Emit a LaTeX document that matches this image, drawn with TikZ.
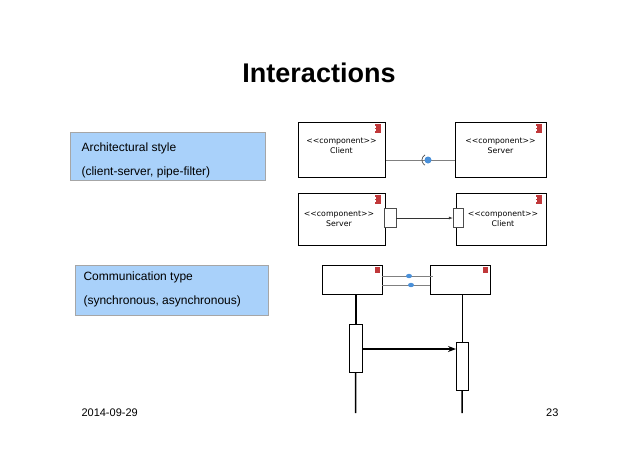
\documentclass[tikz,border=0pt]{standalone}
\usepackage{fontspec}
\setmainfont{Liberation Sans}
\newfontfamily\dv{DejaVu Sans}
\usetikzlibrary{arrows.meta}
\definecolor{lblue}{HTML}{A9D1FA}
\definecolor{icred}{HTML}{C0383A}
\definecolor{balb}{HTML}{4A90D9}
\begin{document}
\begin{tikzpicture}[x=1pt,y=-1pt,
 note/.style={draw=gray!70,fill=lblue,line width=0.6pt},
 comp/.style={draw=black,line width=1.2pt,fill=white},
 ctext/.style={font=\dv\fontsize{7.8}{9.5}\selectfont,align=center},
 port/.style={draw=black!70,fill=white,line width=0.5pt},
 lbl/.style={anchor=west,font=\fontsize{12}{14}\selectfont}]
\useasboundingbox (0,0) rectangle (638,451);
\node[font=\bfseries\fontsize{27}{32}\selectfont] (title) at (319,73) {Interactions};
% notes
\draw[note] (70,132) rectangle (265,180);
\node[lbl] (n1a) at (78,148) {Architectural style};
\node[lbl] (n1b) at (78,172) {(client-server, pipe-filter)};
\draw[note] (75,265) rectangle (268,315);
\node[lbl] (n2a) at (80,277) {Communication type};
\node[lbl] (n2b) at (80,301) {(synchronous, asynchronous)};
% icon macro
\newcommand{\cicon}[2]{\fill[icred] (#1-3,#2) rectangle (#1+3,#2+9);\fill[white] (#1-4,#2+2) rectangle (#1-2,#2+3.5);\fill[white] (#1-4,#2+5) rectangle (#1-2,#2+6.5);}
% component row 1
\node[comp,minimum width=87,minimum height=55,anchor=north west] (c1) at (298,122) {};
\node[ctext] at (341.5,146) {<<component>>\\Client};
\cicon{378}{124}
\node[comp,minimum width=91,minimum height=55,anchor=north west] (s1) at (455,122) {};
\node[ctext] at (500.5,146) {<<component>>\\Server};
\cicon{539}{124}
\coordinate (ball) at (428,160);
\draw[gray,line width=1pt] (c1.east|-ball) -- (ball);
\draw[gray,line width=1pt] (ball) -- (s1.west|-ball);
\draw[gray!60!black,line width=0.7pt] (ball) ++(120:6) arc (120:240:6);
\fill[balb] (ball) circle (3.5);
% component row 2
\node[comp,minimum width=87,minimum height=52,anchor=north west] (s2) at (298,193) {};
\node[ctext] at (339,219) {<<component>>\\Server};
\cicon{378}{195}
\node[comp,minimum width=90,minimum height=52,anchor=north west] (c2) at (456,193) {};
\node[ctext] at (503,219) {<<component>>\\Client};
\cicon{539}{195}
\node[port,minimum width=12,minimum height=19,inner sep=0] (p1) at (390,218) {};
\node[port,minimum width=10,minimum height=19,inner sep=0] (p2) at (458,218) {};
\draw[black!80,-{Latex[length=4pt]},line width=0.5pt] (p1) -- (p2);
% sequence
\node[comp,minimum width=60,minimum height=29,anchor=north west] (o1) at (322,265) {};
\node[comp,minimum width=60,minimum height=29,anchor=north west] (o2) at (430,265) {};
\fill[icred] (375,267) rectangle (380,273);
\fill[icred] (483,267) rectangle (488,273);
\draw[gray,line width=0.7pt] (382,276) -- (433,276);
\draw[gray,line width=0.7pt] (382,285) -- (430,285);
\fill[balb] (409,276) ellipse (3 and 2.2);
\fill[balb] (411,285) ellipse (3 and 2.2);
\node[comp,line width=0.5pt,minimum width=13,minimum height=48,anchor=north west] (a1) at (349,324) {};
\node[comp,line width=0.5pt,minimum width=12,minimum height=48,anchor=north west] (a2) at (456,342) {};
\draw[line width=1.5pt] (o1.south-|a1) -- (a1.north);
\draw[line width=1.5pt] (a1.south) -- (355.5,413);
\draw[line width=1.5pt] (o2.south-|a2) -- (a2.north);
\draw[line width=1.5pt] (a2.south) -- (462,413);
\draw[line width=1.5pt,-{Stealth[length=8pt]}] (a1.east|-0,349) -- (a2.west|-0,349);
% footer
\node[anchor=west,font=\fontsize{11}{13}\selectfont] (d) at (78,413) {2014-09-29};
\node[anchor=east,font=\fontsize{11}{13}\selectfont] (pg) at (562,413) {23};
\end{tikzpicture}
\end{document}
